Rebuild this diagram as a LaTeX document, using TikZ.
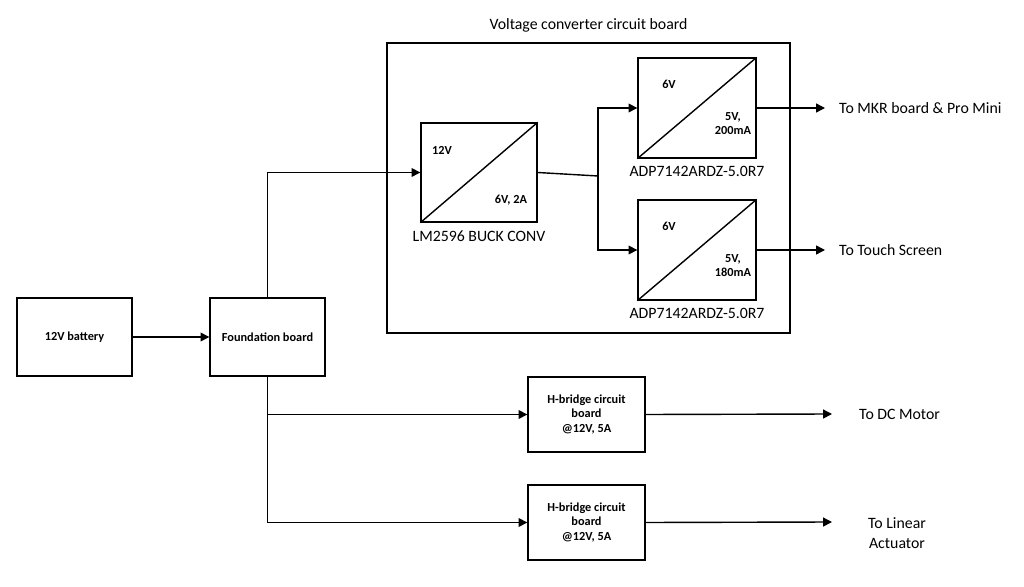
\documentclass[tikz,border=0pt]{standalone}
\usepackage{fontspec}
\setmainfont{Carlito}
\usetikzlibrary{positioning,arrows.meta}
\tikzset{box/.style={draw,thick,minimum width=2.3cm,minimum height=1.56cm,font=\bfseries\scriptsize,align=center,inner sep=1pt},
  conv/.style={draw,thick,minimum width=2.32cm,minimum height=1.98cm},
  wire/.style={thick,-{Triangle[length=5pt,width=5pt]}},
  lbl/.style={font=\small,align=center}}
\begin{document}
\begin{tikzpicture}[x=0.02cm,y=-0.02cm]
\useasboundingbox (0,0) rectangle (1024,587);
  % outer board
  \node[draw,thick,minimum width=8.06cm,minimum height=5.8cm] (vcb) at (588.5,188) {};
  \node[lbl,above=2pt of vcb.north] {Voltage converter circuit board};

  \node[box] (bat) at (74.5,337) {12V battery};
  \node[box] (fb) at (267.5,337) {Foundation board};

  \node[conv] (lm) at (479,172.5) {};
  \node[conv,minimum width=2.36cm,minimum height=2cm] (adp1) at (697,108) {};
  \node[conv,minimum width=2.36cm,minimum height=2cm] (adp2) at (697,250) {};
  \foreach \b in {lm,adp1,adp2}
    \draw[thick] (\b.south west) -- (\b.north east);
  \node[font=\bfseries\scriptsize] at (442,150) {12V};
  \node[font=\bfseries\scriptsize] at (511,200) {6V, 2A};
  \node[lbl,below=1pt of lm.south] {LM2596 BUCK CONV};
  \node[font=\bfseries\scriptsize] at (669,84) {6V};
  \node[font=\bfseries\scriptsize,align=center] at (733,124) {5V,\\200mA};
  \node[lbl,below=1pt of adp1.south] {ADP7142ARDZ-5.0R7};
  \node[font=\bfseries\scriptsize] at (669,226) {6V};
  \node[font=\bfseries\scriptsize,align=center] at (733,266) {5V,\\180mA};
  \node[lbl,below=1pt of adp2.south] {ADP7142ARDZ-5.0R7};

  \node[box,minimum width=2.34cm,minimum height=1.5cm] (hb1) at (586.5,414.5) {H-bridge circuit\\board\\@12V, 5A};
  \node[box,minimum width=2.34cm,minimum height=1.5cm] (hb2) at (586.5,522.5) {H-bridge circuit\\board\\@12V, 5A};

  \coordinate (split) at (598,176);
  \coordinate (mkr) at (825,108);
  \coordinate (ts) at (825,250);
  \coordinate (dc) at (832,414);
  \coordinate (la) at (832,522);
  \node[lbl,anchor=west] at (833,108) {To MKR board \& Pro Mini};
  \node[lbl,anchor=west] at (833,250) {To Touch Screen};
  \node[lbl,anchor=west] at (853,414) {To DC Motor};
  \node[lbl] at (897,533) {To Linear\\Actuator};

  \draw[wire] (bat) -- (fb);
  \draw[wire] (fb.north) |- (lm.west);
  \draw[thick] (lm.east) -- (split);
  \draw[wire] (split) |- (adp1.west);
  \draw[wire] (split) |- (adp2.west);
  \draw[wire] (adp1.east) -- (mkr);
  \draw[wire] (adp2.east) -- (ts);
  \draw[wire] (fb.south) |- (hb1.west);
  \draw[wire] (fb.south) |- (hb2.west);
  \draw[wire] (hb1.east) -- (dc);
  \draw[wire] (hb2.east) -- (la);
\end{tikzpicture}
\end{document}
